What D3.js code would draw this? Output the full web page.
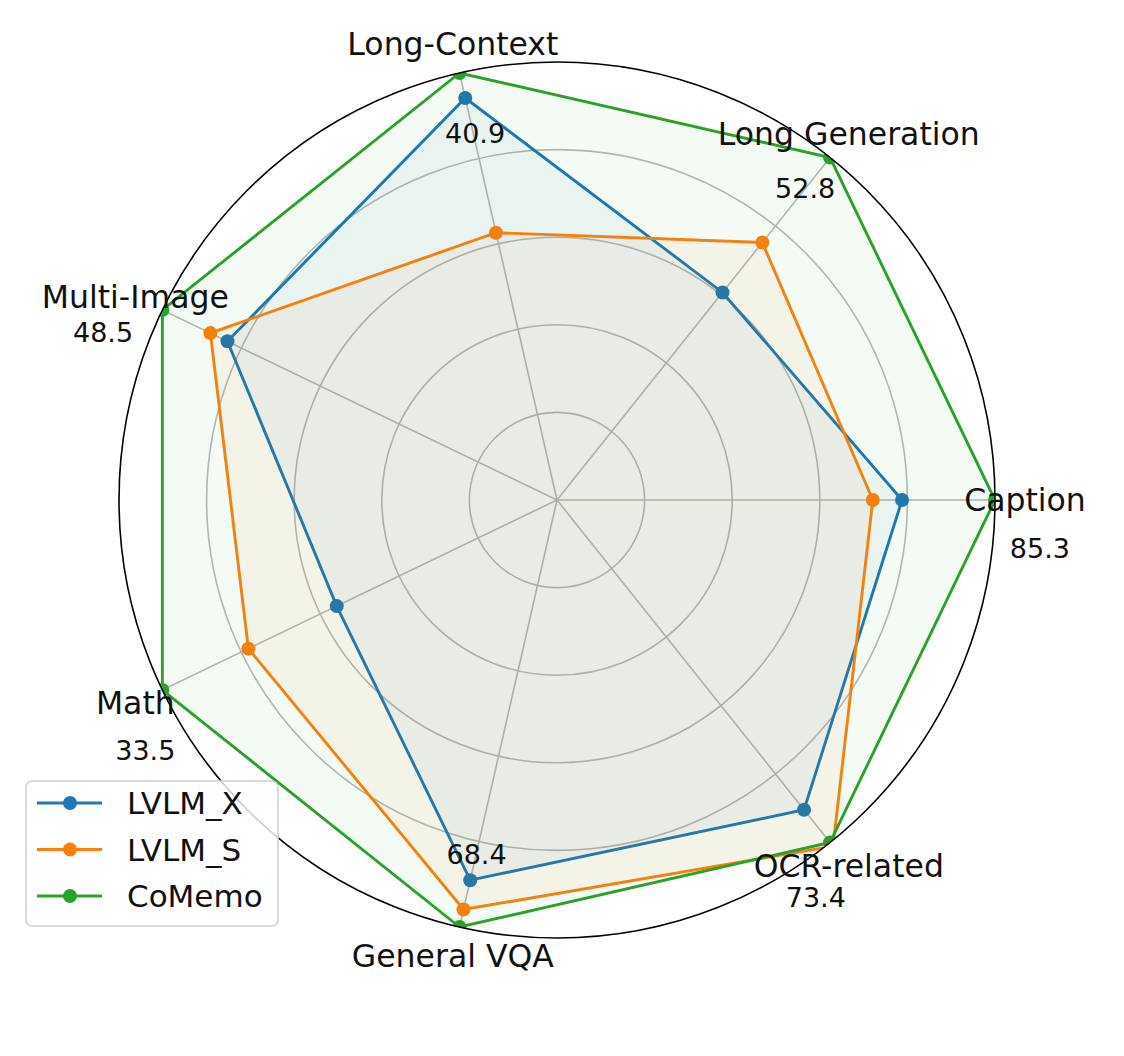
<!DOCTYPE html>
<html>
<head>
<meta charset="utf-8">
<script src="https://cdn.jsdelivr.net/npm/d3@7"></script>
<style>
  body { margin: 0; background: #fff; }
  text { font-family: "DejaVu Sans", sans-serif; fill: #111; }
</style>
</head>
<body>
<svg id="chart" width="1124" height="1056"></svg>
<script>
// categories, going counter-clockwise from the right
const categories = ["Caption", "Long Generation", "Long-Context", "Multi-Image", "Math", "General VQA", "OCR-related"];

// raw scores per model
const lvlmX  = [67.2, 32.0, 38.5, 40.5, 18.7, 60.9, 66.4];
const lvlmS  = [61.5, 39.7, 25.6, 42.6, 26.2, 65.6, 74.2];
const comemo = [85.3, 52.8, 40.9, 48.5, 33.5, 68.4, 73.4];

const seriesNames = ["LVLM_X", "LVLM_S", "CoMemo"];
const seriesColors = ["#1f77b4", "#ff7f0e", "#2ca02c"];
const gridTicks = [0.2, 0.4, 0.6, 0.8];

// where the score labels sit: [angle in degrees, radius as share of R]
const valueLabelPos = [[-5.7, 1.108], [51.5, 0.91], [102.6, 0.858], [159.7, 1.105], [211.3, 1.10], [257.2, 0.829], [303.1, 1.082]];

const cx = 557, cy = 500, R = 438;
const svg = d3.select("#chart");

const r = d3.scaleLinear().domain([0, 1]).range([0, R]);
const angle = d3.scaleLinear().domain([0, categories.length]).range([0, 2 * Math.PI]);
const px = (a, rad) => cx + rad * Math.cos(a);
const py = (a, rad) => cy - rad * Math.sin(a);

svg.append("defs").append("clipPath").attr("id", "clip")
  .append("circle").attr("cx", cx).attr("cy", cy).attr("r", R);

const g = svg.append("g");

// grid circles
g.selectAll(".ring")
  .data(gridTicks)
  .enter()
  .append("circle")
  .attr("cx", cx).attr("cy", cy)
  .attr("r", d => r(d))
  .attr("fill", "none")
  .attr("stroke", "#b8b8b8")
  .attr("stroke-width", 1.6)

// spokes
g.selectAll(".spoke")
  .data(categories)
  .enter()
  .append("line")
  .attr("x1", cx).attr("y1", cy)
  .attr("x2", (d, i) => px(angle(i), R))
  .attr("y2", (d, i) => py(angle(i), R))
  .attr("stroke", "#b8b8b8")
  .attr("stroke-width", 1.6)

// series, normalised by CoMemo score
const series = [lvlmX, lvlmS, comemo].map((vals, s) => ({
  name: seriesNames[s],
  color: seriesColors[s],
  pts: vals.map((v, i) => {
    const a = angle(i), rad = r(v / comemo[i]);
    return [px(a, rad), py(a, rad)];
  })
}));

const plot = g.append("g").attr("clip-path", "url(#clip)");
const line = d3.line().curve(d3.curveLinearClosed);

series.forEach(s => {
  const grp = plot.append("g");
  grp.append("path")
    .attr("d", line(s.pts))
    .attr("fill", s.color)
    .attr("fill-opacity", 0.05)
    .attr("stroke", "none")
  grp.append("path")
    .attr("d", line(s.pts))
    .attr("fill", "none")
    .attr("stroke", s.color)
    .attr("stroke-width", 2.9)
    .attr("stroke-linejoin", "miter")
  grp.selectAll("circle")
    .data(s.pts)
    .enter()
    .append("circle")
    .attr("cx", d => d[0])
    .attr("cy", d => d[1])
    .attr("r", 7)
    .attr("fill", s.color)
});

// outer spine
g.append("circle")
  .attr("cx", cx).attr("cy", cy).attr("r", R)
  .attr("fill", "none")
  .attr("stroke", "#000")
  .attr("stroke-width", 1.6)

// category labels
g.selectAll(".cat")
  .data(categories)
  .enter()
  .append("text")
  .attr("x", (d, i) => px(angle(i), R + 30))
  .attr("y", (d, i) => py(angle(i), R + 30))
  .attr("text-anchor", "middle")
  .attr("dominant-baseline", "central")
  .attr("font-size", "31.5px")
  .text(d => d)

// CoMemo score labels
g.selectAll(".val")
  .data(comemo)
  .enter()
  .append("text")
  .attr("x", (d, i) => px(valueLabelPos[i][0] * Math.PI / 180, R * valueLabelPos[i][1]))
  .attr("y", (d, i) => py(valueLabelPos[i][0] * Math.PI / 180, R * valueLabelPos[i][1]))
  .attr("text-anchor", "middle")
  .attr("dominant-baseline", "central")
  .attr("font-size", "27px")
  .text(d => d.toFixed(1))

// legend
const legend = svg.append("g").attr("transform", "translate(26,781)");
legend.append("rect")
  .attr("width", 252).attr("height", 145)
  .attr("rx", 6)
  .attr("fill", "#fff").attr("fill-opacity", 0.8)
  .attr("stroke", "#d0d0d0").attr("stroke-width", 1.5)

const items = legend.selectAll(".item")
  .data(series)
  .enter()
  .append("g")
  .attr("transform", (d, i) => `translate(0,${22 + i * 46.5})`)

items.append("line")
  .attr("x1", 11).attr("x2", 76)
  .attr("stroke", d => d.color)
  .attr("stroke-width", 2.9)
items.append("circle")
  .attr("cx", 44).attr("r", 7)
  .attr("fill", d => d.color)
items.append("text")
  .attr("x", 101)
  .attr("dominant-baseline", "central")
  .attr("font-size", "31px")
  .text(d => d.name)
</script>
</body>
</html>
